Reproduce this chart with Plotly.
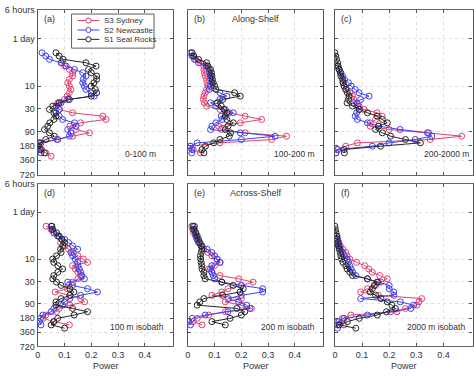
import math
import plotly.graph_objects as go
from plotly.subplots import make_subplots

# ---------------- data ----------------
period_days = [2.0, 2.344, 2.754, 3.236, 3.802, 4.467, 5.248, 6.166, 7.244, 8.511,
               10.0, 11.75, 13.80, 16.22, 19.05, 22.39, 26.30, 30.90, 36.31, 42.66,
               50.12, 58.88, 69.18, 81.28, 95.50, 112.2, 131.8, 154.9, 182.0, 213.8,
               251.2, 295.1]

N = None
# panel (a) 0-100 m along-shelf
a_s3 = [N, N, N, 0.09, 0.10, 0.118, 0.13, 0.13, 0.118, 0.112, 0.118, 0.124, 0.118, 0.11, 0.10, 0.075,
        0.07, 0.08, 0.13, 0.243, 0.255, 0.16, 0.12, 0.143, 0.193, 0.13, 0.07, 0.005, 0.005, 0.015, 0.03, 0.05]
a_s2 = [0.016, 0.03, 0.044, 0.087, 0.106, 0.137, 0.168, 0.18, 0.17, 0.168, 0.174, 0.18, 0.2, 0.211, 0.112, 0.087,
        0.068, 0.081, 0.068, 0.08, 0.093, 0.137, 0.143, 0.112, 0.124, 0.118, 0.075, 0.012, 0.0, 0.006, 0.012, N]
a_s1 = [0.068, 0.08, 0.095, 0.18, 0.218, 0.19, 0.2, 0.22, 0.22, 0.21, 0.2, 0.215, 0.22, 0.2, 0.118, 0.08,
        0.056, 0.044, 0.06, 0.068, 0.06, 0.045, 0.037, 0.025, 0.044, 0.062, 0.03, 0.006, 0.0, 0.01, 0.025, N]
# panel (b) 100-200 m along-shelf
b_s3 = [N, 0.022, 0.03, 0.048, 0.06, 0.06, 0.062, 0.065, 0.07, 0.072, 0.075, 0.07, 0.065, 0.06, 0.058, 0.062,
        0.07, 0.12, 0.155, 0.214, 0.276, 0.196, 0.115, 0.125, 0.214, 0.369, 0.313, 0.12, 0.01, 0.02, 0.047, N]
b_s2 = [0.01, 0.016, 0.025, 0.04, 0.07, 0.08, 0.082, 0.084, 0.086, 0.09, 0.085, 0.08, 0.12, 0.146, 0.12, 0.085,
        0.105, 0.14, 0.17, 0.125, 0.128, 0.105, 0.09, 0.085, 0.196, 0.326, 0.2, 0.035, 0.01, 0.015, 0.015, N]
b_s1 = [0.016, 0.022, 0.04, 0.07, 0.075, 0.085, 0.088, 0.09, 0.092, 0.095, 0.10, 0.105, 0.175, 0.196, 0.13, 0.11,
        0.125, 0.135, 0.146, 0.14, 0.146, 0.17, 0.15, 0.14, 0.16, 0.155, 0.12, 0.097, 0.066, 0.053, 0.06, N]
# panel (c) 200-2000 m along-shelf
c_s3 = [N, N, N, N, N, N, N, N, N, 0.03, 0.034, 0.04, 0.055, 0.065, 0.07, 0.08,
        0.09, 0.107, 0.155, 0.174, 0.15, 0.13, 0.13, 0.2, 0.34, 0.467, 0.351, 0.083, 0.04, 0.01, 0.004, N]
c_s2 = [N, N, N, N, 0.01, 0.015, 0.022, 0.028, 0.035, 0.05, 0.06, 0.075, 0.089, 0.126, 0.095, 0.07,
        0.085, 0.089, 0.08, 0.075, 0.083, 0.12, 0.162, 0.24, 0.345, 0.357, 0.296, 0.2, 0.138, 0.01, 0.004, N]
c_s1 = [0.0, 0.003, 0.006, 0.01, 0.012, 0.016, 0.02, 0.022, 0.028, 0.03, 0.034, 0.04, 0.046, 0.052, 0.05, 0.045,
        0.065, 0.09, 0.12, 0.156, 0.175, 0.193, 0.16, 0.15, 0.175, 0.205, 0.26, 0.315, 0.168, 0.034, 0.035, N]
# panel (d) 100 m isobath across-shelf
d_s3 = [0.031, 0.05, 0.06, 0.075, 0.09, 0.085, 0.10, 0.115, 0.13, 0.15, 0.17, 0.186, 0.13, 0.14, 0.15, 0.16,
        0.15, 0.13, 0.115, 0.11, 0.065, 0.12, 0.16, 0.175, 0.12, 0.08, 0.07, 0.03, 0.02, 0.06, 0.118, N]
d_s2 = [0.05, 0.055, 0.06, 0.075, 0.10, 0.115, 0.13, 0.149, 0.124, 0.13, 0.14, 0.149, 0.15, 0.155, 0.16, 0.165,
        0.174, 0.112, 0.13, 0.186, 0.223, 0.16, 0.12, 0.10, 0.093, 0.06, 0.05, 0.019, 0.01, 0.006, 0.012, N]
d_s1 = [0.053, 0.055, 0.07, 0.08, 0.09, 0.10, 0.093, 0.085, 0.087, 0.07, 0.056, 0.06, 0.075, 0.093, 0.075, 0.06,
        0.056, 0.07, 0.087, 0.12, 0.135, 0.12, 0.087, 0.068, 0.068, 0.13, 0.186, 0.136, 0.074, 0.06, 0.05, 0.10]
# panel (e) 200 m isobath across-shelf
e_s3 = [0.015, 0.018, 0.022, 0.03, 0.035, 0.042, 0.05, 0.06, 0.075, 0.09, 0.109, 0.121, 0.10, 0.078, 0.09, 0.12,
        0.19, 0.244, 0.20, 0.15, 0.127, 0.09, 0.20, 0.14, 0.20, 0.238, 0.14, 0.078, 0.035, 0.02, 0.053, N]
e_s2 = [0.025, 0.025, 0.028, 0.03, 0.035, 0.04, 0.053, 0.072, 0.09, 0.10, 0.11, 0.12, 0.09, 0.085, 0.09, 0.095,
        0.10, 0.127, 0.20, 0.28, 0.28, 0.20, 0.152, 0.19, 0.22, 0.232, 0.15, 0.065, 0.016, 0.004, 0.01, N]
e_s1 = [0.02, 0.022, 0.03, 0.035, 0.04, 0.045, 0.05, 0.053, 0.05, 0.047, 0.048, 0.05, 0.052, 0.053, 0.06, 0.06,
        0.065, 0.127, 0.17, 0.207, 0.195, 0.13, 0.06, 0.045, 0.035, 0.183, 0.213, 0.20, 0.158, 0.09, 0.14, N]
# panel (f) 2000 m isobath across-shelf
f_s3 = [N, N, N, N, N, 0.015, 0.02, 0.03, 0.04, 0.045, 0.055, 0.08, 0.11, 0.125, 0.138, 0.165,
        0.193, 0.17, 0.15, 0.12, 0.095, 0.16, 0.32, 0.31, 0.302, 0.26, 0.229, 0.059, 0.028, 0.01, 0.034, N]
f_s2 = [N, N, N, 0.008, 0.01, 0.013, 0.016, 0.02, 0.028, 0.035, 0.045, 0.05, 0.055, 0.06, 0.065, 0.077,
        0.12, 0.16, 0.20, 0.2, 0.217, 0.217, 0.095, 0.241, 0.29, 0.28, 0.205, 0.12, 0.034, 0.015, 0.01, 0.01]
f_s1 = [0.0, 0.002, 0.004, 0.006, 0.008, 0.01, 0.013, 0.016, 0.02, 0.022, 0.025, 0.03, 0.04, 0.045, 0.055, 0.065,
        0.12, 0.156, 0.145, 0.138, 0.13, 0.15, 0.17, 0.193, 0.21, 0.223, 0.19, 0.156, 0.09, 0.046, 0.016, 0.077]

series_names = ["S3 Sydney", "S2 Newcastle", "S1 Seal Rocks"]
panel_data = [[a_s3, a_s2, a_s1], [b_s3, b_s2, b_s1], [c_s3, c_s2, c_s1],
              [d_s3, d_s2, d_s1], [e_s3, e_s2, e_s1], [f_s3, f_s2, f_s1]]
panel_letters = ["(a)", "(b)", "(c)", "(d)", "(e)", "(f)"]
depth_labels = ["0-100 m", "100-200 m", "200-2000 m", "100 m isobath", "200 m isobath", "2000 m isobath"]
column_titles = {1: "Along-Shelf", 4: "Across-Shelf"}
y_tickvals = [0.25, 1, 10, 30, 90, 180, 360, 720]
y_ticktext = ["6 hours", "1 day", "10", "30", "90", "180", "360", "720"]
x_tickvals = [0, 0.1, 0.2, 0.3, 0.4]
x_ticktext = ["0", "0.1", "0.2", "0.3", "0.4"]

# ---------------- style / layout ----------------
W, H = 474, 378
colors = ["#e0426c", "#4040ee", "#262626"]
FONT = "Liberation Sans, Arial, sans-serif"
TXT = "#333333"
col_px = [(35.0, 171.5), (186.0, 322.5), (334.0, 472.5)]
row_px = [(4.8, 174.3), (183.6, 350.7)]


def px(x):
    return x / W


def py(y):
    return 1 - y / H


fig = make_subplots(rows=2, cols=3)

for i, pdata in enumerate(panel_data):
    r, c = i // 3 + 1, i % 3 + 1
    for s, vals in enumerate(pdata):
        fig.add_trace(go.Scatter(
            x=vals, y=period_days, mode="lines+markers",
            line=dict(color=colors[s], width=1),
            marker=dict(symbol="circle-open", size=6, color=colors[s], line=dict(width=1)),
            name=series_names[s], showlegend=False, connectgaps=False,
        ), row=r, col=c)

for i in range(6):
    r, c = i // 3, i % 3
    idx = "" if i == 0 else str(i + 1)
    x0, x1 = col_px[c]
    y0, y1 = row_px[r]
    fig.layout["xaxis" + idx].update(
        domain=[px(x0), px(x1)], range=[0, 0.507], tickvals=x_tickvals, ticktext=x_ticktext,
        showticklabels=(r == 1), ticks="inside", ticklen=3, tickcolor="#555",
        showline=True, linecolor="#666", linewidth=1, mirror="ticks",
        showgrid=True, gridcolor="#e0e0e0", griddash="dot", gridwidth=1, zeroline=False,
        tickfont=dict(family=FONT, size=9, color=TXT),
    )
    fig.layout["yaxis" + idx].update(
        domain=[py(y1), py(y0)], type="log", range=[math.log10(720), math.log10(0.25)],
        tickvals=y_tickvals, ticktext=y_ticktext, showticklabels=(c == 0),
        ticks="inside", ticklen=3, tickcolor="#555",
        showline=True, linecolor="#555", linewidth=1.2, mirror="ticks",
        showgrid=True, gridcolor="#e0e0e0", griddash="dot", gridwidth=1, zeroline=False,
        tickfont=dict(family=FONT, size=9, color=TXT),
    )

annotations = []
for i in range(6):
    r, c = i // 3, i % 3
    x0, x1 = col_px[c]
    y0, y1 = row_px[r]
    annotations.append(dict(x=px(x0 + 4), y=py(y0 + 9.5), xref="paper", yref="paper", text=panel_letters[i],
                            showarrow=False, xanchor="left", yanchor="middle",
                            font=dict(family=FONT, size=9, color=TXT)))
    if i in column_titles:
        annotations.append(dict(x=px((x0 + x1) / 2), y=py(y0 + 10), xref="paper", yref="paper",
                                text=column_titles[i], showarrow=False, xanchor="center", yanchor="middle",
                                font=dict(family=FONT, size=9, color=TXT)))
label_centers = [(138, 153), (293, 153), (446, 153), (135, 330.5), (286.5, 330.5), (436, 330.5)]
for i, (cx, cy) in enumerate(label_centers):
    annotations.append(dict(x=px(cx), y=py(cy), xref="paper", yref="paper", text=depth_labels[i],
                            showarrow=False, xanchor="center", yanchor="middle",
                            font=dict(family=FONT, size=8.5, color=TXT)))
for c in range(3):
    x0, x1 = col_px[c]
    annotations.append(dict(x=px((x0 + x1) / 2), y=py(370.5), xref="paper", yref="paper", text="Power",
                            showarrow=False, xanchor="center", yanchor="middle",
                            font=dict(family=FONT, size=9, color=TXT)))

# manual compact legend (panel a)
shapes = [dict(type="rect", xref="paper", yref="paper", x0=px(69), x1=px(152), y0=py(9.3), y1=py(44.3),
               fillcolor="white", line=dict(color="#333", width=0.8), layer="above")]
leg_rows = [16.0, 25.7, 35.3]
rad = 2.6
for s, ly in enumerate(leg_rows):
    shapes.append(dict(type="line", xref="paper", yref="paper", x0=px(75), x1=px(97), y0=py(ly), y1=py(ly),
                       line=dict(color=colors[s], width=1), layer="above"))
    shapes.append(dict(type="circle", xref="paper", yref="paper", x0=px(86 - rad), x1=px(86 + rad),
                       y0=py(ly + rad), y1=py(ly - rad), fillcolor="white",
                       line=dict(color=colors[s], width=1), layer="above"))
    annotations.append(dict(x=px(99.5), y=py(ly), xref="paper", yref="paper", text=series_names[s],
                            showarrow=False, xanchor="left", yanchor="middle",
                            font=dict(family=FONT, size=8, color=TXT)))

fig.update_layout(
    width=W, height=H, autosize=False, margin=dict(l=0, r=0, t=0, b=0),
    paper_bgcolor="white", plot_bgcolor="white", showlegend=False,
    annotations=annotations, shapes=shapes,
)

fig.write_html("out.html", config={"displayModeBar": False},
               post_script="document.body.style.margin='0';document.body.style.overflow='hidden';")
